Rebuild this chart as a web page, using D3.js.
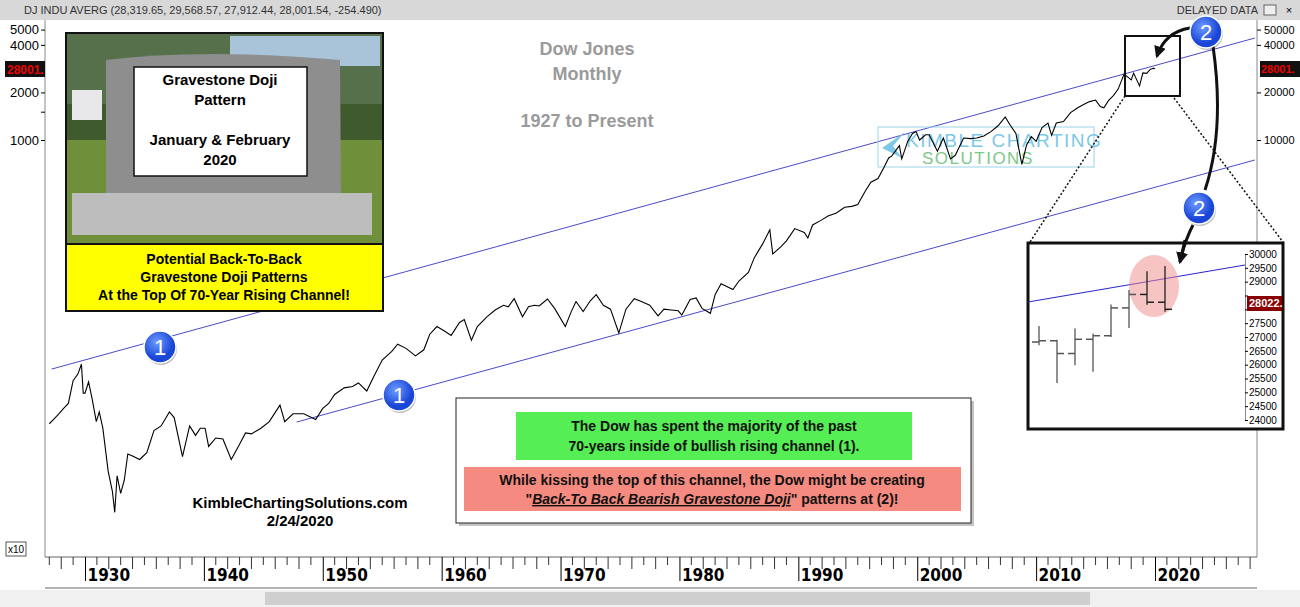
<!DOCTYPE html>
<html><head><meta charset="utf-8">
<script src="https://cdn.jsdelivr.net/npm/d3@7"></script>
<style>body{margin:0;background:#fff;font-family:Arial,"Liberation Sans",sans-serif}</style>
</head><body><svg id="c" width="1300" height="607"></svg>
<script>
// Dow Jones monthly approximations (year, close)
const years = [1927.0,1927.4,1927.8,1928.2,1928.6,1929.0,1929.4,1929.7,1929.85,1930.0,1930.3,1930.6,1930.95,1931.2,1931.5,1931.95,1932.3,1932.5,1932.7,1933.0,1933.3,1933.6,1934.0,1934.6,1935.2,1935.8,1936.4,1937.1,1937.5,1938.2,1938.8,1939.3,1939.7,1940.1,1940.4,1941.0,1941.6,1942.3,1942.9,1943.5,1944.0,1944.8,1945.5,1946.4,1946.8,1947.5,1948.4,1949.4,1950.0,1950.5,1951.0,1951.8,1952.5,1953.0,1953.7,1954.3,1955.0,1955.8,1956.3,1957.0,1957.8,1958.5,1959.0,1959.6,1960.2,1960.8,1961.5,1961.9,1962.5,1963.0,1963.8,1964.5,1965.2,1965.6,1966.1,1966.8,1967.3,1967.8,1968.2,1968.9,1969.5,1970.4,1970.9,1971.3,1971.9,1972.5,1973.0,1973.6,1974.2,1974.9,1975.5,1976.2,1976.8,1977.5,1978.2,1978.7,1979.3,1979.9,1980.2,1980.9,1981.4,1981.9,1982.6,1983.0,1983.5,1984.5,1985.0,1985.8,1986.3,1987.0,1987.6,1987.85,1988.5,1989.0,1989.7,1990.5,1990.8,1991.2,1991.9,1992.5,1993.2,1993.9,1994.5,1995.0,1995.6,1996.1,1996.7,1997.2,1997.6,1997.85,1998.5,1998.7,1999.2,1999.6,1999.9,2000.2,2000.7,2001.0,2001.7,2002.2,2002.8,2003.2,2003.9,2004.5,2005.0,2005.6,2006.2,2006.8,2007.4,2007.8,2008.3,2008.8,2009.2,2009.6,2010.0,2010.5,2011.0,2011.3,2011.7,2012.3,2012.9,2013.5,2014.0,2014.5,2015.0,2015.4,2015.7,2016.1,2016.5,2016.9,2017.4,2018.0,2018.2,2018.7,2018.98,2019.3,2019.6,2019.9,2020.0,2020.15];
const closes = [160,172,185,200,215,300,330,381,250,250,294,230,165,190,150,80,60,44,75,58,70,103,100,95,105,145,155,190,175,99,155,135,150,150,115,130,128,95,115,140,138,150,165,210,165,185,185,170,200,215,245,270,275,290,258,320,405,460,510,480,430,470,590,660,620,580,700,730,540,660,760,840,900,880,990,760,880,900,890,985,860,660,820,950,820,960,1050,900,850,600,850,990,950,900,770,850,840,830,780,980,1000,860,800,1050,1230,1130,1280,1450,1800,2200,2700,1900,2100,2300,2750,2600,2400,2900,3100,3300,3450,3750,3800,3900,4700,5400,5700,6700,7700,7900,9200,7600,9800,11000,11300,10000,10800,10800,8500,10300,7600,8000,10300,10200,10300,10600,11300,12300,14000,12500,11000,7000,9300,10500,9800,12000,12800,10700,12800,13100,14900,16000,16800,17500,17900,16300,16000,17800,19100,21000,26100,24000,26500,22000,26600,26400,28000,28500,28200];
const yearTicks = [1930,1940,1950,1960,1970,1980,1990,2000,2010,2020];
const leftTicks = [1000,2000,4000,5000];
const rightTicks = [10000,20000,40000,50000];
const upperChannel = [[1927.2,355],[2028.4,44200]];
const lowerChannel = [[1947.8,164],[2028.4,7470]];
// inset monthly OHLC Jul 2019 - Feb 2020
const insetMonths = ["Jul","Aug","Sep","Oct","Nov","Dec","Jan","Feb"];
const insetOpen  = [26818,26864,26403,26917,27046,28051,28538,28256];
const insetHigh  = [27398,26900,27306,27122,28175,28702,29374,29568];
const insetLow   = [26699,25339,25978,25743,27000,27325,28170,27912];
const insetClose = [26864,26403,26917,27046,28051,28538,28256,28001];
const insetTicks = [24000,24500,25000,25500,26000,26500,27000,27500,28000,28500,29000,29500,30000];

const svg = d3.select("#c");
const x = d3.scaleLinear().domain([1930,2020]).range([85,1155]);
const y = d3.scaleLog().domain([100,10000]).range([456,140]);

// header
svg.append("rect").attr("width",1300).attr("height",20).attr("fill","#d8d8d8");
svg.append("text").attr("x",24).attr("y",14).attr("font-size",11).attr("fill","#333").text("DJ INDU AVERG (28,319.65, 29,568.57, 27,912.44, 28,001.54, -254.490)");
svg.append("text").attr("x",1258).attr("y",14).attr("font-size",11).attr("fill","#333").attr("text-anchor","end").text("DELAYED DATA");
svg.append("rect").attr("x",1264).attr("y",5).attr("width",12).attr("height",10).attr("fill","#eee").attr("stroke","#666");
svg.append("text").attr("x",1289).attr("y",14).attr("font-size",11).attr("text-anchor","middle").text("×");

// axes frame
svg.append("line").attr("x1",45).attr("x2",45).attr("y1",20).attr("y2",557).attr("stroke","#888");
svg.append("line").attr("x1",1257).attr("x2",1257).attr("y1",20).attr("y2",557).attr("stroke","#888");
svg.append("line").attr("x1",45).attr("x2",1257).attr("y1",557).attr("y2",557).attr("stroke","#666");
svg.append("line").attr("x1",45).attr("x2",1257).attr("y1",588).attr("y2",588).attr("stroke","#666");

// left axis (scaled x10)
const yl = d3.scaleLog().domain([10,1000]).range([456,140]);
const la = svg.append("g").attr("transform","translate(45,0)").call(d3.axisLeft(yl).tickValues(leftTicks).tickFormat(d3.format("d")).tickSize(4));
la.select(".domain").remove();
la.selectAll("text").attr("font-size",13).attr("fill","#000").attr("x",-6);
[3000,1500].forEach(v=>svg.append("line").attr("x1",41).attr("x2",45).attr("y1",yl(v)).attr("y2",yl(v)).attr("stroke","#000"));
svg.append("rect").attr("x",5).attr("y",61).attr("width",40).attr("height",16).attr("fill","#111");
svg.append("text").attr("x",7).attr("y",74).attr("font-size",12).attr("font-weight","bold").attr("fill","#e00").text("28001.");
// right axis
const ra = svg.append("g").attr("transform","translate(1257,0)").call(d3.axisRight(y).tickValues(rightTicks).tickFormat(d3.format("d")).tickSize(4));
ra.select(".domain").remove();
ra.selectAll("text").attr("font-size",11).attr("fill","#000");
svg.append("rect").attr("x",1260).attr("y",61).attr("width",40).attr("height",16).attr("fill","#111");
svg.append("text").attr("x",1261).attr("y",73).attr("font-size",11).attr("font-weight","bold").attr("fill","#e00").text("28001.");

// bottom axis
const xa = svg.append("g").attr("transform","translate(0,557)").call(d3.axisBottom(x).tickValues(yearTicks).tickFormat(d3.format("d")).tickSize(24));
xa.select(".domain").remove();
xa.selectAll("line").attr("stroke","#000");
xa.selectAll("text").attr("font-size",17).attr("font-weight","bold").attr("font-family","'Liberation Sans Narrow','DejaVu Sans Condensed',Arial").attr("text-anchor","start").attr("x",2).attr("y",12);
d3.range(1927,2029).filter(v=>v%10).forEach(v=>svg.append("line").attr("x1",x(v)).attr("x2",x(v)).attr("y1",557).attr("y2",v%2?565:569).attr("stroke","#333"));
svg.append("rect").attr("x",0).attr("y",590).attr("width",1300).attr("height",17).attr("fill","#f0f0f0");
svg.append("rect").attr("x",265).attr("y",592).attr("width",825).attr("height",13).attr("fill","#cfcfcf");
svg.append("rect").attr("x",6).attr("y",542).attr("width",20).attr("height",14).attr("fill","#fff").attr("stroke","#555");
svg.append("text").attr("x",8).attr("y",553).attr("font-size",10).text("x10");

// channels
const line = d3.line().x(d=>x(d[0])).y(d=>y(d[1]));
[upperChannel,lowerChannel].forEach(c=>svg.append("path").attr("d",line(c)).attr("stroke","#4a4ac8").attr("stroke-width",1).attr("fill","none"));

// watermark logo
svg.append("rect").attr("x",878).attr("y",127).attr("width",216).attr("height",40).attr("fill","none").attr("stroke","#9cd3ea");
svg.append("path").attr("d","M905,132 L882,148 L902,158 L893,146 Z").attr("fill","#7cc8e6");
svg.append("text").attr("x",906).attr("y",147).attr("font-size",19).attr("fill","#7cc8e6").attr("letter-spacing",1.5).text("KIMBLE CHARTING");
svg.append("text").attr("x",922).attr("y",164).attr("font-size",17).attr("fill","#7cc88a").attr("letter-spacing",1.5).text("SOLUTIONS");

// main price series
svg.append("path").attr("d",d3.line().x((d,i)=>x(years[i])).y(d=>y(d))(closes)).attr("stroke","#000").attr("stroke-width",1.1).attr("fill","none");

// titles
const g1 = svg.append("g").attr("font-size",18).attr("font-weight","bold").attr("fill","#9a9a9a").attr("text-anchor","middle");
g1.append("text").attr("x",587).attr("y",55).text("Dow Jones");
g1.append("text").attr("x",587).attr("y",80).text("Monthly");
g1.append("text").attr("x",587).attr("y",127).text("1927 to Present");

// gravestone image
const gi = svg.append("g");
gi.append("rect").attr("x",66).attr("y",33).attr("width",317).attr("height",211).attr("fill","#3f5a2c").attr("stroke","#111").attr("stroke-width",2);
gi.append("rect").attr("x",67).attr("y",34).attr("width",315).attr("height",70).attr("fill","#55704a");
gi.append("rect").attr("x",230).attr("y",36).attr("width",150).attr("height",30).attr("fill","#a9c3d8");
gi.append("rect").attr("x",67).attr("y",140).attr("width",315).attr("height",103).attr("fill","#6f8f3a");
gi.append("rect").attr("x",72).attr("y",90).attr("width",30).attr("height",30).attr("fill","#e8e8ea");
gi.append("path").attr("d","M106,60 Q200,48 340,60 L341,195 L106,195 Z").attr("fill","#8e8e8e");
gi.append("rect").attr("x",72).attr("y",193).attr("width",300).attr("height",42).attr("fill","#bdbdbd");
gi.append("rect").attr("x",134).attr("y",67).attr("width",173).attr("height",109).attr("fill","#fff").attr("stroke","#111").attr("stroke-width",1.5);
const gt = svg.append("g").attr("font-size",15).attr("font-weight","bold").attr("text-anchor","middle");
[["Gravestone Doji",85],["Pattern",105],["January & February",145],["2020",165]].forEach(t=>gt.append("text").attr("x",220).attr("y",t[1]).text(t[0]));
svg.append("rect").attr("x",66).attr("y",244).attr("width",317).attr("height",67).attr("fill","#ffff00").attr("stroke","#111").attr("stroke-width",2);
const yt = svg.append("g").attr("font-size",14).attr("font-weight","bold").attr("text-anchor","middle");
[["Potential Back-To-Back",264],["Gravestone Doji Patterns",282],["At the Top Of 70-Year Rising Channel!",300]].forEach(t=>yt.append("text").attr("x",224).attr("y",t[1]).text(t[0]));

// text box center
svg.append("rect").attr("x",459).attr("y",401).attr("width",515).attr("height",125).attr("fill","#888").attr("opacity",0.5);
svg.append("rect").attr("x",456).attr("y",398).attr("width",515).attr("height",125).attr("fill","#fff").attr("stroke","#222");
svg.append("rect").attr("x",516).attr("y",412).attr("width",396).attr("height",48).attr("fill","#55ee55");
svg.append("rect").attr("x",464).attr("y",467).attr("width",497).attr("height",44).attr("fill","#f58a80");
const ct = svg.append("g").attr("font-size",14).attr("font-weight","bold").attr("text-anchor","middle").attr("fill","#111");
ct.append("text").attr("x",714).attr("y",431).text("The Dow has spent the majority of the past");
ct.append("text").attr("x",714).attr("y",451).text("70-years inside of bullish rising channel (1).");
ct.append("text").attr("x",712).attr("y",485).text("While kissing the top of this channel, the Dow might be creating");
const t2 = ct.append("text").attr("x",712).attr("y",504);
t2.append("tspan").text("\"");
t2.append("tspan").attr("font-style","italic").attr("text-decoration","underline").text("Back-To Back Bearish Gravestone Doji");
t2.append("tspan").text("\" patterns at (2)!");

const kt = svg.append("g").attr("font-size",15).attr("font-weight","bold").attr("text-anchor","middle");
kt.append("text").attr("x",300).attr("y",508).text("KimbleChartingSolutions.com");
kt.append("text").attr("x",300).attr("y",526).text("2/24/2020");

// zoom box & dotted lines
svg.append("rect").attr("x",1125).attr("y",36).attr("width",55).attr("height",60).attr("fill","none").attr("stroke","#111").attr("stroke-width",2);
svg.append("line").attr("x1",1125).attr("y1",96).attr("x2",1030).attr("y2",242).attr("stroke","#111").attr("stroke-dasharray","2,2").attr("stroke-width",1.5);
svg.append("line").attr("x1",1174).attr("y1",98).attr("x2",1283).attr("y2",242).attr("stroke","#111").attr("stroke-dasharray","2,2").attr("stroke-width",1.5);

// inset
const ix = d3.scaleBand().domain(insetMonths).range([1030,1174]).paddingInner(0);
const iy = d3.scaleLinear().domain([24000,30000]).range([420,254]);
svg.append("rect").attr("x",1028).attr("y",243).attr("width",255).attr("height",186).attr("fill","#fff").attr("stroke","#111").attr("stroke-width",3);
svg.append("line").attr("x1",1028).attr("x2",1245).attr("y1",302).attr("y2",265).attr("stroke","#2a2acc").attr("stroke-width",1.2);
svg.append("ellipse").attr("cx",1154).attr("cy",286).attr("rx",25).attr("ry",31).attr("fill","#f08a8a").attr("opacity",0.5);
const ia = svg.append("g").attr("transform","translate(1245,0)").call(d3.axisRight(iy).tickValues(insetTicks).tickFormat(d3.format("d")).tickSize(3));
ia.select(".domain").attr("stroke","#888");
ia.selectAll("text").attr("font-size",10).attr("x",4);
ia.selectAll(".tick").filter(d=>d===28000||d===28500).select("text").remove();
svg.append("rect").attr("x",1247).attr("y",296).attr("width",35).attr("height",15).attr("fill","#8a0000");
svg.append("text").attr("x",1249).attr("y",307).attr("font-size",11).attr("font-weight","bold").attr("fill","#fff").text("28022.");
insetMonths.forEach((m,i)=>{
  const cx = ix(m)+ix.bandwidth()/2, col = i>=6?"#222":"#555";
  svg.append("line").attr("x1",cx).attr("x2",cx).attr("y1",iy(insetHigh[i])).attr("y2",iy(insetLow[i])).attr("stroke",col).attr("stroke-width",1.3);
  svg.append("line").attr("x1",cx-7).attr("x2",cx).attr("y1",iy(insetOpen[i])).attr("y2",iy(insetOpen[i])).attr("stroke",col).attr("stroke-width",1.5);
  svg.append("line").attr("x1",cx).attr("x2",cx+7).attr("y1",iy(insetClose[i])).attr("y2",iy(insetClose[i])).attr("stroke",col).attr("stroke-width",1.5);
});

// arrows
const defs = svg.append("defs");
defs.append("marker").attr("id","ah").attr("viewBox","0 0 10 10").attr("refX",8).attr("refY",5).attr("markerWidth",4).attr("markerHeight",4).attr("orient","auto").append("path").attr("d","M0,0 L10,5 L0,10 Z").attr("fill","#111");
svg.append("path").attr("d","M1190,28 Q1165,32 1157,56").attr("fill","none").attr("stroke","#111").attr("stroke-width",3).attr("marker-end","url(#ah)");
svg.append("path").attr("d","M1213,46 Q1225,130 1205,190 M1193,225 Q1185,240 1180,262").attr("fill","none").attr("stroke","#111").attr("stroke-width",3);
svg.append("path").attr("d","M1185,240 L1180,262").attr("fill","none").attr("stroke","#111").attr("stroke-width",3).attr("marker-end","url(#ah)");

// numbered circles
const grad = defs.append("radialGradient").attr("id","bg").attr("cx","40%").attr("cy","35%");
grad.append("stop").attr("offset","0%").attr("stop-color","#6f9cff");
grad.append("stop").attr("offset","100%").attr("stop-color","#1a46d8");
[[160,347,"1"],[399,395,"1"],[1206,32,"2"],[1199,208,"2"]].forEach(c=>{
  svg.append("circle").attr("cx",c[0]+1).attr("cy",c[1]+2).attr("r",16).attr("fill","#000").attr("opacity",0.25);
  svg.append("circle").attr("cx",c[0]).attr("cy",c[1]).attr("r",16).attr("fill","url(#bg)").attr("stroke","#fff").attr("stroke-width",1.5);
  svg.append("text").attr("x",c[0]).attr("y",c[1]+8).attr("text-anchor","middle").attr("font-size",22).attr("fill","#fff").text(c[2]);
});
</script></body></html>
